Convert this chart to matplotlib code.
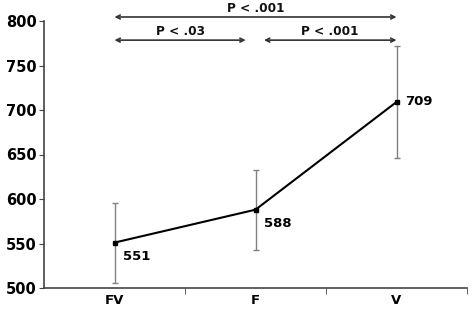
import matplotlib
matplotlib.use("Agg")
import matplotlib.pyplot as plt

categories = ["FV", "F", "V"]
means = [551, 588, 709]
errors = [45, 45, 63]
yticks = [500, 550, 600, 650, 700, 750, 800]
comparisons = [("FV", "V", "P < .001", 0), ("FV", "F", "P < .03", 1), ("F", "V", "P < .001", 1)]

fig = plt.figure(figsize=(4.74, 3.26), dpi=100)
ax = fig.add_axes([44/474, 1-288/326, 423/474, 267/326])
x = list(range(len(categories)))

ax.errorbar(x, means, yerr=errors, fmt="none", ecolor="#808080", elinewidth=1.0,
            capsize=2, capthick=1.0, zorder=2)
ax.plot(x, means, color="black", lw=1.5, marker="s", ms=3.5, zorder=3)

offsets = [(6, -10), (6, -10), (6, 0)]
for xi, m, (dx, dy) in zip(x, means, offsets):
    ax.annotate(str(m), (xi, m), xytext=(dx, dy), textcoords="offset points",
                ha="left", va="center", fontsize=9.5, fontweight="bold")

ax.set_xlim(-0.5, 2.5)
ax.set_ylim(500, 800)
ax.set_yticks(yticks)
ax.set_xticks(x)
ax.set_xticklabels(categories, fontsize=9.5, fontweight="bold")
ax.tick_params(axis="x", length=0, pad=4)
ax.set_xticks([0.5, 1.5, 2.5], minor=True)
ax.tick_params(axis="x", which="minor", length=4, color="#444444", direction="out")
ax.tick_params(axis="y", length=3.5, color="#444444", direction="out", labelsize=10.5, pad=1.5)
for lab in ax.get_yticklabels():
    lab.set_fontweight("bold")
for s in ["top", "right"]:
    ax.spines[s].set_visible(False)
for s in ["left", "bottom"]:
    ax.spines[s].set_color("#444444")
    ax.spines[s].set_linewidth(1.2)

row_y = [804.5, 778.5]
idx = {c: i for i, c in enumerate(categories)}
for a, b, label, row in comparisons:
    xa, xb = idx[a], idx[b]
    if row == 1 and a == "FV":
        xa2, xb2 = xa, xb - 0.07
    elif row == 1:
        xa2, xb2 = xa + 0.06, xb
    else:
        xa2, xb2 = xa, xb
    y = row_y[row]
    ax.annotate("", xy=(xa2, y), xytext=(xb2, y),
                arrowprops=dict(arrowstyle="<->", color="#333333", lw=1.2,
                                shrinkA=0, shrinkB=0, mutation_scale=7),
                annotation_clip=False)
    ax.text((xa2 + xb2) / 2, y + 2.5, label, ha="center", va="bottom", fontsize=8.7,
            fontweight="bold", color="#111111", clip_on=False)

fig.savefig("out.png", dpi=100)
